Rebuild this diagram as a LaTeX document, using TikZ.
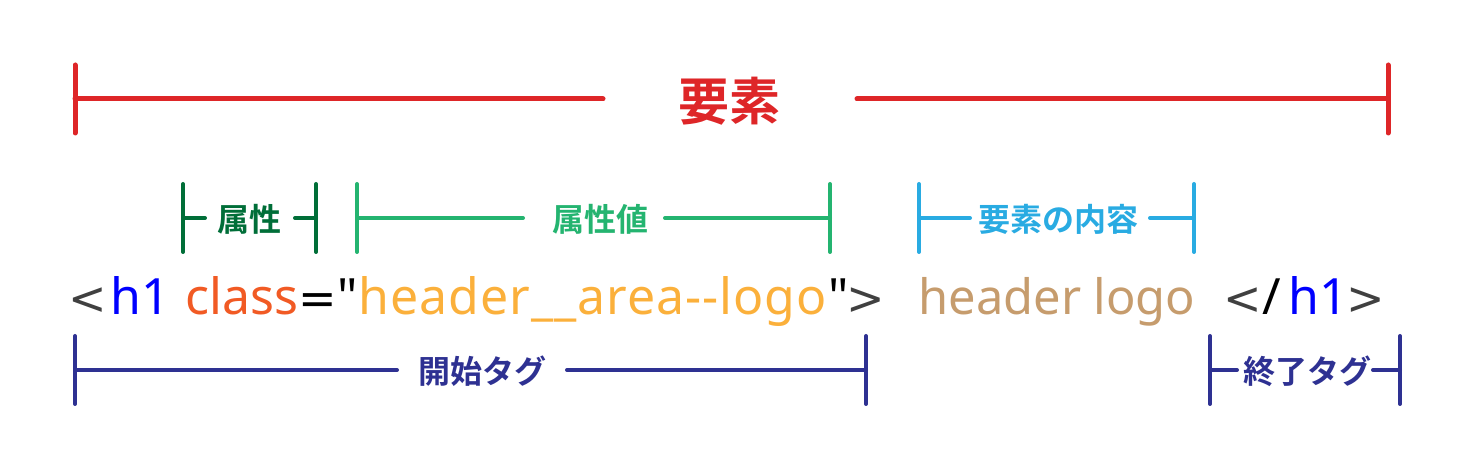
\documentclass[tikz,border=0pt]{standalone}
\usepackage{fontspec}
\setmainfont{Noto Sans}
\newfontfamily\codefont{Noto Sans}
\newfontfamily\symfont{DejaVu Sans}
\newfontfamily\jpfont{Noto Sans CJK JP Bold}
\definecolor{elemred}{RGB}{222,38,40}
\definecolor{attrgreen}{RGB}{0,110,56}
\definecolor{valgreen}{RGB}{36,180,112}
\definecolor{bodyblue}{RGB}{41,171,226}
\definecolor{taginky}{RGB}{46,49,146}
\definecolor{codegray}{RGB}{64,64,64}
\definecolor{tagblue}{RGB}{0,0,255}
\definecolor{classorange}{RGB}{241,90,36}
\definecolor{valorange}{RGB}{251,176,59}
\definecolor{bodytan}{RGB}{198,156,109}
\tikzset{
  elem/.style={draw=elemred,line width=2.5pt},
  attr/.style={draw=attrgreen,line width=2pt},
  val/.style={draw=valgreen,line width=2pt},
  body/.style={draw=bodyblue,line width=2pt},
  tagline/.style={draw=taginky,line width=2pt},
  lbl/.style={inner sep=0pt,font=\jpfont\fontsize{16}{16}\selectfont},
  code/.style={inner sep=0pt,anchor=base west,font=\codefont\fontsize{25}{25}\selectfont},
  sym/.style={code,font=\symfont\fontsize{23}{23}\selectfont}
}
\begin{document}
\begin{tikzpicture}[x=0.5pt,y=-0.5pt,line cap=round]
\useasboundingbox (0,0) rectangle (1468,469);

% 要素
\node[lbl,elemred,font=\jpfont\fontsize{25.5}{26}\selectfont] (elem) at (729,101) {要素};
\coordinate (elem-l) at (75,99);  \coordinate (elem-a) at (603,99);
\coordinate (elem-b) at (857,99); \coordinate (elem-r) at (1388,99);
\draw[elem] (elem-l) ++(0,-34) -- ++(0,68);
\draw[elem] (elem-r) ++(0,-34) -- ++(0,68);
\draw[elem] (elem-l) -- (elem-a);
\draw[elem] (elem-b) -- (elem-r);

% 属性
\node[lbl,attrgreen] (attr) at (249,219) {属性};
\coordinate (attr-l) at (183,218); \coordinate (attr-a) at (205,218);
\coordinate (attr-b) at (295,218); \coordinate (attr-r) at (316,218);
\draw[attr] (attr-l) ++(0,-34) -- ++(0,68);
\draw[attr] (attr-r) ++(0,-34) -- ++(0,68);
\draw[attr] (attr-l) -- (attr-a);
\draw[attr] (attr-b) -- (attr-r);

% 属性値
\node[lbl,valgreen] (val) at (600,219) {属性値};
\coordinate (val-l) at (357,218); \coordinate (val-a) at (523,218);
\coordinate (val-b) at (665,218); \coordinate (val-r) at (830,218);
\draw[val] (val-l) ++(0,-34) -- ++(0,68);
\draw[val] (val-r) ++(0,-34) -- ++(0,68);
\draw[val] (val-l) -- (val-a);
\draw[val] (val-b) -- (val-r);

% 要素の内容
\node[lbl,bodyblue] (body) at (1058,219) {要素の内容};
\coordinate (body-l) at (919,218);  \coordinate (body-a) at (970,218);
\coordinate (body-b) at (1150,218); \coordinate (body-r) at (1194,218);
\draw[body] (body-l) ++(0,-34) -- ++(0,68);
\draw[body] (body-r) ++(0,-34) -- ++(0,68);
\draw[body] (body-l) -- (body-a);
\draw[body] (body-b) -- (body-r);

% code
\node[sym,codegray] (lt) at (68,315) {<};
\node[code,tagblue] (tag) at (110,315) {h1};
\node[code,classorange] (cls) at (185,315) {class};
\node[sym] (eq) at (298,315) {=};
\node[code] (quot1) at (337,315) {"};
\node[code,valorange] (value) at (358,315) {\addfontfeature{LetterSpace=2}header\_\_area--logo};
\node[code] (quot2) at (828,315) {"};
\node[sym,codegray] (gt) at (846,315) {>};
\node[code,bodytan,font=\codefont\fontsize{24.4}{25}\selectfont] (content) at (918,315) {header logo};
\node[sym,codegray] (lt2) at (1223,315) {<};
\node[code] (slash) at (1262,315) {/};
\node[code,tagblue] (tag2) at (1288,315) {h1};
\node[sym,codegray] (gt2) at (1346,315) {>};

% 開始タグ
\node[lbl,taginky] (open-lbl) at (482,371) {開始タグ};
\coordinate (open-l) at (75,370);  \coordinate (open-a) at (397,370);
\coordinate (open-b) at (567,370); \coordinate (open-r) at (866,370);
\draw[tagline] (open-l) ++(0,-34) -- ++(0,68);
\draw[tagline] (open-r) ++(0,-34) -- ++(0,68);
\draw[tagline] (open-l) -- (open-a);
\draw[tagline] (open-b) -- (open-r);

% 終了タグ
\node[lbl,taginky] (close-lbl) at (1307,371) {終了タグ};
\coordinate (close-l) at (1210,370); \coordinate (close-a) at (1237,370);
\coordinate (close-b) at (1373,370); \coordinate (close-r) at (1400,370);
\draw[tagline] (close-l) ++(0,-34) -- ++(0,68);
\draw[tagline] (close-r) ++(0,-34) -- ++(0,68);
\draw[tagline] (close-l) -- (close-a);
\draw[tagline] (close-b) -- (close-r);
\end{tikzpicture}
\end{document}
